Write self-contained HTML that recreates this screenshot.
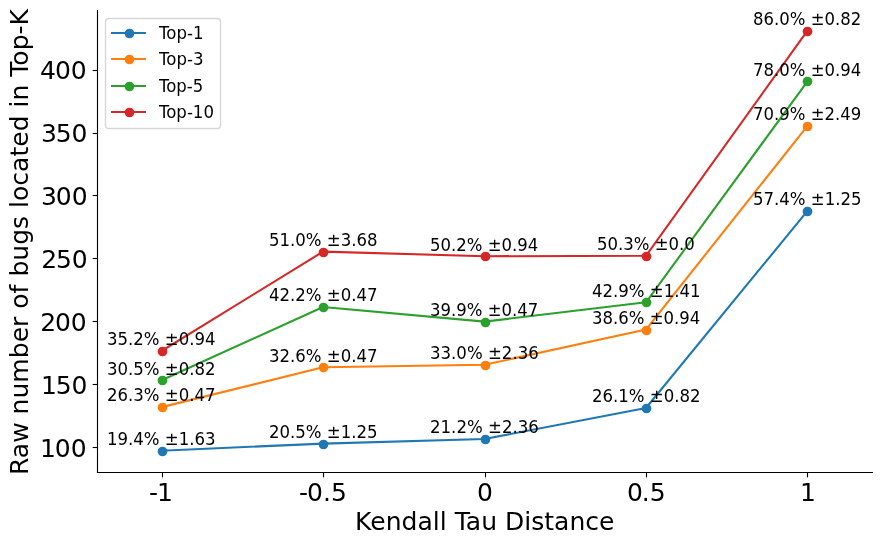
<!DOCTYPE html>
<html lang="en"><head><meta charset="utf-8"><title>Kendall Tau Distance vs bugs located in Top-K</title>
<style>html,body{margin:0;padding:0;background:#fff;overflow:hidden}svg{display:block}text{font-family:"DejaVu Sans","Liberation Sans",sans-serif;fill:#000}.t18{font-size:25px}.t12{font-size:16.667px}</style></head><body>
<svg width="882" height="545" viewBox="0 0 882 545">
<rect width="882" height="545" fill="#fff"/>
<g stroke="#000" stroke-width="1.111" fill="none">
<line x1="162.5" y1="472.5" x2="162.5" y2="477.361"/>
<line x1="323.5" y1="472.5" x2="323.5" y2="477.361"/>
<line x1="485.5" y1="472.5" x2="485.5" y2="477.361"/>
<line x1="646.5" y1="472.5" x2="646.5" y2="477.361"/>
<line x1="807.5" y1="472.5" x2="807.5" y2="477.361"/>
<line x1="97.5" y1="447.5" x2="92.639" y2="447.5"/>
<line x1="97.5" y1="384.5" x2="92.639" y2="384.5"/>
<line x1="97.5" y1="321.5" x2="92.639" y2="321.5"/>
<line x1="97.5" y1="258.5" x2="92.639" y2="258.5"/>
<line x1="97.5" y1="195.5" x2="92.639" y2="195.5"/>
<line x1="97.5" y1="133.5" x2="92.639" y2="133.5"/>
<line x1="97.5" y1="70.5" x2="92.639" y2="70.5"/>
</g>
<g class="t18">
<text x="148.98 157.04" y="501">-1</text>
<text x="299.02 307.05 323.07 330.99" y="501">-0.5</text>
<text x="477.08" y="501">0</text>
<text x="627.10 641.82 649.77" y="501">0.5</text>
<text x="799.99" y="501">1</text>
<text x="40.00 54.86 70.74" y="457">100</text>
<text x="41.00 55.82 71.62" y="394">150</text>
<text x="40.14 54.99 70.86" y="331">200</text>
<text x="41.14 55.95 71.74" y="268">250</text>
<text x="41.06 55.86 71.74" y="205">300</text>
<text x="41.06 55.82 71.62" y="142">350</text>
<text x="40.04 54.99 70.86" y="79">400</text>
<text transform="translate(484.78 530) scale(1.002 1)" text-anchor="middle">Kendall Tau Distance</text>
<text transform="translate(27.5 242) rotate(-90) scale(1.002 1)" text-anchor="middle">Raw number of bugs located in Top-K</text>
</g>
<polyline points="161.61,450.72 323.07,443.59 484.53,438.98 645.99,407.97 807.44,210.96" fill="none" stroke="#1f77b4" stroke-width="2.083" stroke-linejoin="round" stroke-linecap="square"/>
<g fill="#1f77b4"><circle cx="162.5" cy="451.5" r="4.861"/><circle cx="323.5" cy="444.5" r="4.861"/><circle cx="485.5" cy="439.5" r="4.861"/><circle cx="646.5" cy="408.5" r="4.861"/><circle cx="807.5" cy="211.5" r="4.861"/></g>
<polyline points="161.61,407.13 323.07,367.31 484.53,364.79 645.99,329.58 807.44,125.87" fill="none" stroke="#ff7f0e" stroke-width="2.083" stroke-linejoin="round" stroke-linecap="square"/>
<g fill="#ff7f0e"><circle cx="162.5" cy="407.5" r="4.861"/><circle cx="323.5" cy="367.5" r="4.861"/><circle cx="485.5" cy="365.5" r="4.861"/><circle cx="646.5" cy="330.5" r="4.861"/><circle cx="807.5" cy="126.5" r="4.861"/></g>
<polyline points="161.61,380.30 323.07,306.95 484.53,321.62 645.99,302.34 807.44,81.44" fill="none" stroke="#2ca02c" stroke-width="2.083" stroke-linejoin="round" stroke-linecap="square"/>
<g fill="#2ca02c"><circle cx="162.5" cy="380.5" r="4.861"/><circle cx="323.5" cy="307.5" r="4.861"/><circle cx="485.5" cy="322.5" r="4.861"/><circle cx="646.5" cy="302.5" r="4.861"/><circle cx="807.5" cy="81.5" r="4.861"/></g>
<polyline points="161.61,350.96 323.07,251.62 484.53,256.23 645.99,255.81 807.44,30.72" fill="none" stroke="#d62728" stroke-width="2.083" stroke-linejoin="round" stroke-linecap="square"/>
<g fill="#d62728"><circle cx="162.5" cy="351.5" r="4.861"/><circle cx="323.5" cy="252.5" r="4.861"/><circle cx="485.5" cy="256.5" r="4.861"/><circle cx="646.5" cy="256.5" r="4.861"/><circle cx="807.5" cy="31.5" r="4.861"/></g>
<g stroke="#000" stroke-width="1.111" fill="none" stroke-linecap="square">
<line x1="97.5" y1="10.5" x2="97.5" y2="472.5"/>
<line x1="97.5" y1="472.5" x2="872.5" y2="472.5"/>
</g>
<g class="t12">
<text transform="translate(107 445) scale(0.9941 1.07)">19.4% ±1.63</text>
<text transform="translate(269 438) scale(0.9941 1.07)">20.5% ±1.25</text>
<text transform="translate(430 433) scale(0.9964 1.07)">21.2% ±2.36</text>
<text transform="translate(592 402) scale(0.9941 1.07)">26.1% ±0.82</text>
<text transform="translate(753 205) scale(0.9930 1.07)">57.4% ±1.25</text>
<text transform="translate(107 401) scale(0.9930 1.07)">26.3% ±0.47</text>
<text transform="translate(269 362) scale(0.9930 1.07)">32.6% ±0.47</text>
<text transform="translate(430 359) scale(0.9952 1.07)">33.0% ±2.36</text>
<text transform="translate(592 324) scale(0.9918 1.07)">38.6% ±0.94</text>
<text transform="translate(753 120) scale(0.9918 1.07)">70.9% ±2.49</text>
<text transform="translate(107 375) scale(0.9930 1.07)">30.5% ±0.82</text>
<text transform="translate(269 301) scale(0.9930 1.07)">42.2% ±0.47</text>
<text transform="translate(430 316) scale(0.9918 1.07)">39.9% ±0.47</text>
<text transform="translate(592 297) scale(0.9941 1.07)">42.9% ±1.41</text>
<text transform="translate(753 76) scale(0.9907 1.07)">78.0% ±0.94</text>
<text transform="translate(107 345) scale(0.9930 1.07)">35.2% ±0.94</text>
<text transform="translate(269 246) scale(0.9930 1.07)">51.0% ±3.68</text>
<text transform="translate(430 251) scale(0.9918 1.07)">50.2% ±0.94</text>
<text transform="translate(597 250) scale(0.9920 1.07)">50.3% ±0.0</text>
<text transform="translate(753 25) scale(0.9918 1.07)">86.0% ±0.82</text>
</g>
<rect x="105.5" y="18.5" width="115" height="110" rx="3.33" ry="3.33" fill="#fff" fill-opacity="0.8" stroke="#ccc" stroke-opacity="0.8" stroke-width="1.389"/>
<g class="t12">
<line x1="112" y1="33" x2="145" y2="33" stroke="#1f77b4" stroke-width="2.083" stroke-linecap="square"/>
<circle cx="129.5" cy="33.5" r="4.861" fill="#1f77b4"/>
<text transform="translate(158.94 38.99) scale(0.9951 1.07)">Top-1</text>
<line x1="112" y1="59" x2="145" y2="59" stroke="#ff7f0e" stroke-width="2.083" stroke-linecap="square"/>
<circle cx="129.5" cy="59.5" r="4.861" fill="#ff7f0e"/>
<text transform="translate(158.94 65.32) scale(0.9951 1.07)">Top-3</text>
<line x1="112" y1="86" x2="145" y2="86" stroke="#2ca02c" stroke-width="2.083" stroke-linecap="square"/>
<circle cx="129.5" cy="86.5" r="4.861" fill="#2ca02c"/>
<text transform="translate(158.94 91.65) scale(0.9923 1.07)">Top-5</text>
<line x1="112" y1="112" x2="145" y2="112" stroke="#d62728" stroke-width="2.083" stroke-linecap="square"/>
<circle cx="129.5" cy="112.5" r="4.861" fill="#d62728"/>
<text transform="translate(158.94 117.99) scale(0.9940 1.07)">Top-10</text>
</g>
</svg></body></html>
